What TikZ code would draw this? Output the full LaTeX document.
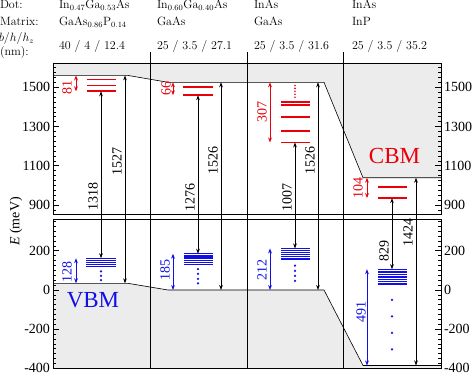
\documentclass[tikz,border=0pt]{standalone}
\usepackage{fontspec}
\newfontfamily\tnr{Liberation Serif}
\usetikzlibrary{arrows.meta}
\definecolor{myred}{RGB}{235,0,10}
\definecolor{myblue}{RGB}{16,16,230}
\definecolor{bandgray}{RGB}{236,236,236}
\begin{document}
\begin{tikzpicture}[x=1pt,y=1pt,
  every node/.style={inner sep=0pt,outer sep=0pt},
  hdr/.style={font=\fontsize{12}{14}\selectfont,anchor=base west},
  num/.style={font=\tnr\fontsize{14}{16}\selectfont},
  vlab/.style={font=\tnr\fontsize{14}{16}\selectfont,rotate=90},
  blk/.style={line width=0.6pt,{Stealth[length=5pt,width=3.6pt,inset=1.6pt]}-{Stealth[length=5pt,width=3.6pt,inset=1.6pt]}},
  redarr/.style={myred,line width=0.9pt,{Stealth[length=5pt,width=3.8pt,inset=1.6pt]}-{Stealth[length=5pt,width=3.8pt,inset=1.6pt]}},
  bluarr/.style={myblue,line width=0.9pt,{Stealth[length=5pt,width=3.8pt,inset=1.6pt]}-{Stealth[length=5pt,width=3.8pt,inset=1.6pt]}},
  band/.style={line width=0.6pt},
  frm/.style={line width=0.7pt},
]
\useasboundingbox (0,0) rectangle (474,375);

% ---------- upper panel (E in meV) ----------
\begin{scope}[yshift=-6.4pt,y=0.196pt]
  \fill[bandgray] (53,1625) -- (53,1561) -- (128,1561) -- (168,1526) -- (324,1526)
        -- (363,1039) -- (441,1039) -- (441,1625) -- cycle;
  \coordinate (cb1) at (125,1561);
  \coordinate (cb2) at (221,1526);
  \coordinate (cb3) at (318,1526);
  \coordinate (cb4) at (416,1039);
  \coordinate (e1) at (101,1480);
  \coordinate (e2) at (198,1460);
  \coordinate (e3) at (295,1219);
  \coordinate (e4) at (392,935);
  \coordinate (rt1) at (76,1561);  \coordinate (rb1) at (76,1480);
  \coordinate (rt2) at (173,1526); \coordinate (rb2) at (173,1460);
  \coordinate (rt3) at (270,1526); \coordinate (rb3) at (270,1219);
  \coordinate (rt4) at (367,1039); \coordinate (rb4) at (367,935);
  \coordinate (uf1) at (53,850); \coordinate (uf2) at (441,1625);
\end{scope}

% ---------- lower panel ----------
\begin{scope}[yshift=85pt,y=0.196pt]
  \fill[bandgray] (53,-400) -- (53,34) -- (128,34) -- (168,0) -- (324,0)
        -- (363,-385) -- (441,-385) -- (441,-400) -- cycle;
  \coordinate (vb1) at (125,34);
  \coordinate (vb2) at (221,0);
  \coordinate (vb3) at (318,0);
  \coordinate (vb4) at (416,-385);
  \coordinate (h1) at (101,162);
  \coordinate (h2) at (198,185);
  \coordinate (h3) at (295,212);
  \coordinate (h4) at (392,106);
  \coordinate (bb1) at (76,34);   \coordinate (bt1) at (76,162);
  \coordinate (bb2) at (173,0);   \coordinate (bt2) at (173,185);
  \coordinate (bb3) at (270,0);   \coordinate (bt3) at (270,212);
  \coordinate (bb4) at (367,-385);\coordinate (bt4) at (367,106);
  \coordinate (lf1) at (53,-400); \coordinate (lf2) at (441,362);
\end{scope}

% column dividers
\foreach \xx in {150,247,343} \draw[frm] (\xx,323) -- (\xx,6.6);

% frames
\draw[frm] (uf1) rectangle (uf2);
\draw[frm] (lf1) rectangle (lf2);

\begin{scope}[yshift=-6.4pt,y=0.196pt]
  % electron levels (filled bars)
  \foreach \e in {1480,1510,1540} \fill[myred] (87,{\e-4.6}) rectangle (116,{\e+4.6});
  \foreach \e in {1460,1503} \fill[myred] (183,{\e-4.6}) rectangle (213,{\e+4.6});
  \foreach \e in {1219,1279,1347,1410,1424} \fill[myred] (281,{\e-4.6}) rectangle (310,{\e+4.6});
  \foreach \e in {1450,1465,1480,1495,1510} \fill[myred] (295,\e) circle[radius=0.9pt];
  \foreach \e in {935,990} \fill[myred] (378,{\e-4.6}) rectangle (407,{\e+4.6});
  \draw[band] (53,1561) -- (128,1561) -- (168,1526) -- (324,1526) -- (363,1039) -- (441,1039);
  \foreach \e in {875,900,...,1600} {\draw[frm] (53,\e) -- ++(3,0); \draw[frm] (441,\e) -- ++(-3,0);}
  \foreach \e in {900,1100,1300,1500} {
    \draw[frm] (53,\e) -- ++(6,0); \draw[frm] (441,\e) -- ++(-6,0);
    \node[num,anchor=east] (ul\e) at (50,\e) {\e};
    \node[num,anchor=west] (ur\e) at (444,\e) {\e};}
\end{scope}

\begin{scope}[yshift=85pt,y=0.196pt]
  % hole levels
  \foreach \e in {162,151,140,129,119} \fill[myblue] (86,{\e-3.5}) rectangle (116,{\e+3.5});
  \foreach \e in {185,174,163,152,141,130} \fill[myblue] (184,{\e-3.5}) rectangle (213,{\e+3.5});
  \foreach \e in {212,202,192,182,172,162,155} \fill[myblue] (281,{\e-3.5}) rectangle (310,{\e+3.5});
  \foreach \e in {106,92,78,66,54,42,30} \fill[myblue] (378,{\e-3.5}) rectangle (407,{\e+3.5});
  \foreach \e in {95,72,50} \fill[myblue] (101,\e) circle[radius=1.25pt];
  \foreach \e in {107,82,57,34} \fill[myblue] (198,\e) circle[radius=1.25pt];
  \foreach \e in {124,98,72,46} \fill[myblue] (295,\e) circle[radius=1.25pt];
  \foreach \e in {-51,-135,-219,-303} \fill[myblue] (392,\e) circle[radius=1.25pt];
  \draw[band] (53,34) -- (128,34) -- (168,0) -- (324,0) -- (363,-385) -- (441,-385);
  \foreach \e in {-375,-350,...,350} {\draw[frm] (53,\e) -- ++(3,0); \draw[frm] (441,\e) -- ++(-3,0);}
  \foreach \e in {-400,-200,0,200} {
    \draw[frm] (53,\e) -- ++(6,0); \draw[frm] (441,\e) -- ++(-6,0);
    \node[num,anchor=east] (ll\e) at (50,\e) {\e};
    \node[num,anchor=west] (lr\e) at (444,\e) {\e};}
\end{scope}

% transition arrows
\draw[blk] (vb1) -- (cb1);
\draw[blk] (h1) -- (e1);
\draw[blk] (vb2) -- (cb2);
\draw[blk] (h2) -- (e2);
\draw[blk] (vb3) -- (cb3);
\draw[blk] (h3) -- (e3);
\draw[blk] (vb4) -- (cb4);
\draw[blk] (h4) -- (e4);
% confinement arrows
\draw[redarr] (rt1) -- (rb1);
\draw[redarr] (rt2) -- (rb2);
\draw[redarr] (rt3) -- (rb3);
\draw[redarr] (rt4) -- (rb4);
\draw[bluarr] (bb1) -- (bt1);
\draw[bluarr] (bb2) -- (bt2);
\draw[bluarr] (bb3) -- (bt3);
\draw[bluarr] (bb4) -- (bt4);

% arrow labels
\node[vlab] (l1527) at (117,213.5) {1527};
\node[vlab] (l1318) at (93,178) {1318};
\node[vlab] (l1276) at (190,177) {1276};
\node[vlab] (l1526a) at (213,214) {1526};
\node[vlab] (l1007) at (287,177) {1007};
\node[vlab] (l1526b) at (310,214) {1526};
\node[vlab] (l829) at (384,124) {829};
\node[vlab] (l1424) at (408,142) {1424};
\node[vlab,text=myred] (l81) at (67,287) {81};
\node[vlab,text=myred] (l66) at (166,286) {66};
\node[vlab,text=myred] (l307) at (262,263) {307};
\node[vlab,text=myred] (l104) at (358,187) {104};
\node[vlab,text=myblue] (l128) at (67,103) {128};
\node[vlab,text=myblue] (l185) at (165,105) {185};
\node[vlab,text=myblue] (l212) at (262,105) {212};
\node[vlab,text=myblue] (l491) at (361,63) {491};

\node[font=\tnr\fontsize{23}{25}\selectfont,text=myred,anchor=base] (cbm) at (394.5,211) {CBM};
\node[font=\tnr\fontsize{23}{25}\selectfont,text=myblue,anchor=base] (vbm) at (93,67.7) {VBM};

\node[vlab] (ylab) at (16,153.5) {{\itshape E} (meV)};

% header
\node[hdr] (dotlab) at (0,366.5) {Dot:};
\node[hdr] (matlab) at (0,349.5) {Matrix:};
\node[hdr] (dimlab) at (-1,333.5) {$b/h/h_z$};
\node[hdr] (nmlab) at (0,319) {(nm):};
\node[hdr] (d1) at (59,366.5) {In$_{0.47}$Ga$_{0.53}$As};
\node[hdr] (d2) at (157,366.5) {In$_{0.60}$Ga$_{0.40}$As};
\node[hdr] (d3) at (254,366.5) {InAs};
\node[hdr] (d4) at (352,366.5) {InAs};
\node[hdr] (m1) at (59,349.5) {GaAs$_{0.86}$P$_{0.14}$};
\node[hdr] (m2) at (157,349.5) {GaAs};
\node[hdr] (m3) at (254,349.5) {GaAs};
\node[hdr] (m4) at (352,349.5) {InP};
\node[hdr] (v1) at (59,325) {40 / 4 / 12.4};
\node[hdr] (v2) at (157,325) {25 / 3.5 / 27.1};
\node[hdr] (v3) at (254,325) {25 / 3.5 / 31.6};
\node[hdr] (v4) at (352,325) {25 / 3.5 / 35.2};
\end{tikzpicture}
\end{document}
